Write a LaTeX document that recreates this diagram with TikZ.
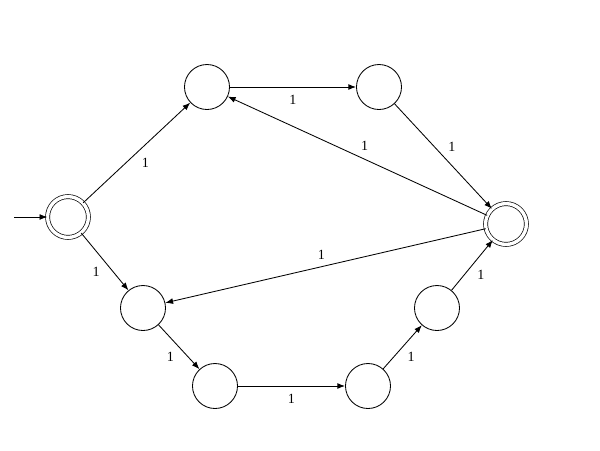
\documentclass[tikz,border=0pt]{standalone}
\usepackage{fontspec}
\setmainfont{Liberation Serif}
\usepackage{tikz}
\usetikzlibrary{arrows.meta}

\tikzset{
  state/.style = {circle, draw, line width=.6pt, minimum size=1.125cm, inner sep=0pt},
  accept/.style = {circle, draw, line width=.5pt, double, double distance=2.4pt, minimum size=1.02cm, inner sep=0pt},
  trans/.style = {-{Latex[length=5.5pt, width=4.2pt]}, line width=.6pt},
}

\begin{document}
\begin{tikzpicture}[x = .025cm, y = -.025cm, font=\fontsize{10}{12}\selectfont]
        \useasboundingbox (0,0) rectangle (600,450);
        \node[accept] (q0) at (68,217) {};
        \node[state] (q1) at (207,87) {};
        \node[state] (q2) at (379,87) {};
        \node[accept] (q3) at (506,224) {};
        \node[state] (q4) at (143,308) {};
        \node[state] (q5) at (215,386) {};
        \node[state] (q6) at (368,386) {};
        \node[state] (q7) at (437,308) {};
        \coordinate (in) at (14,217);
        \draw[trans] (in) -- (q0);
        \draw[trans] (q0) -- node[below right] {1} (q1);
        \draw[trans] (q1) -- node[below, yshift=-2pt] {1} (q2);
        \draw[trans] (q2) -- node[above right] {1} (q3);
        \draw[trans] (q3) -- node[above right, xshift=-1pt] {1} (q1);
        \draw[trans] (q3) -- node[above, xshift=-3pt, yshift=1pt] {1} (q4);
        \draw[trans] (q0) -- node[below left] {1} (q4);
        \draw[trans] (q4) -- node[below left] {1} (q5);
        \draw[trans] (q5) -- node[below, yshift=-2pt] {1} (q6);
        \draw[trans] (q6) -- node[below right] {1} (q7);
        \draw[trans] (q7) -- node[below right] {1} (q3);
      \end{tikzpicture}
\end{document}
